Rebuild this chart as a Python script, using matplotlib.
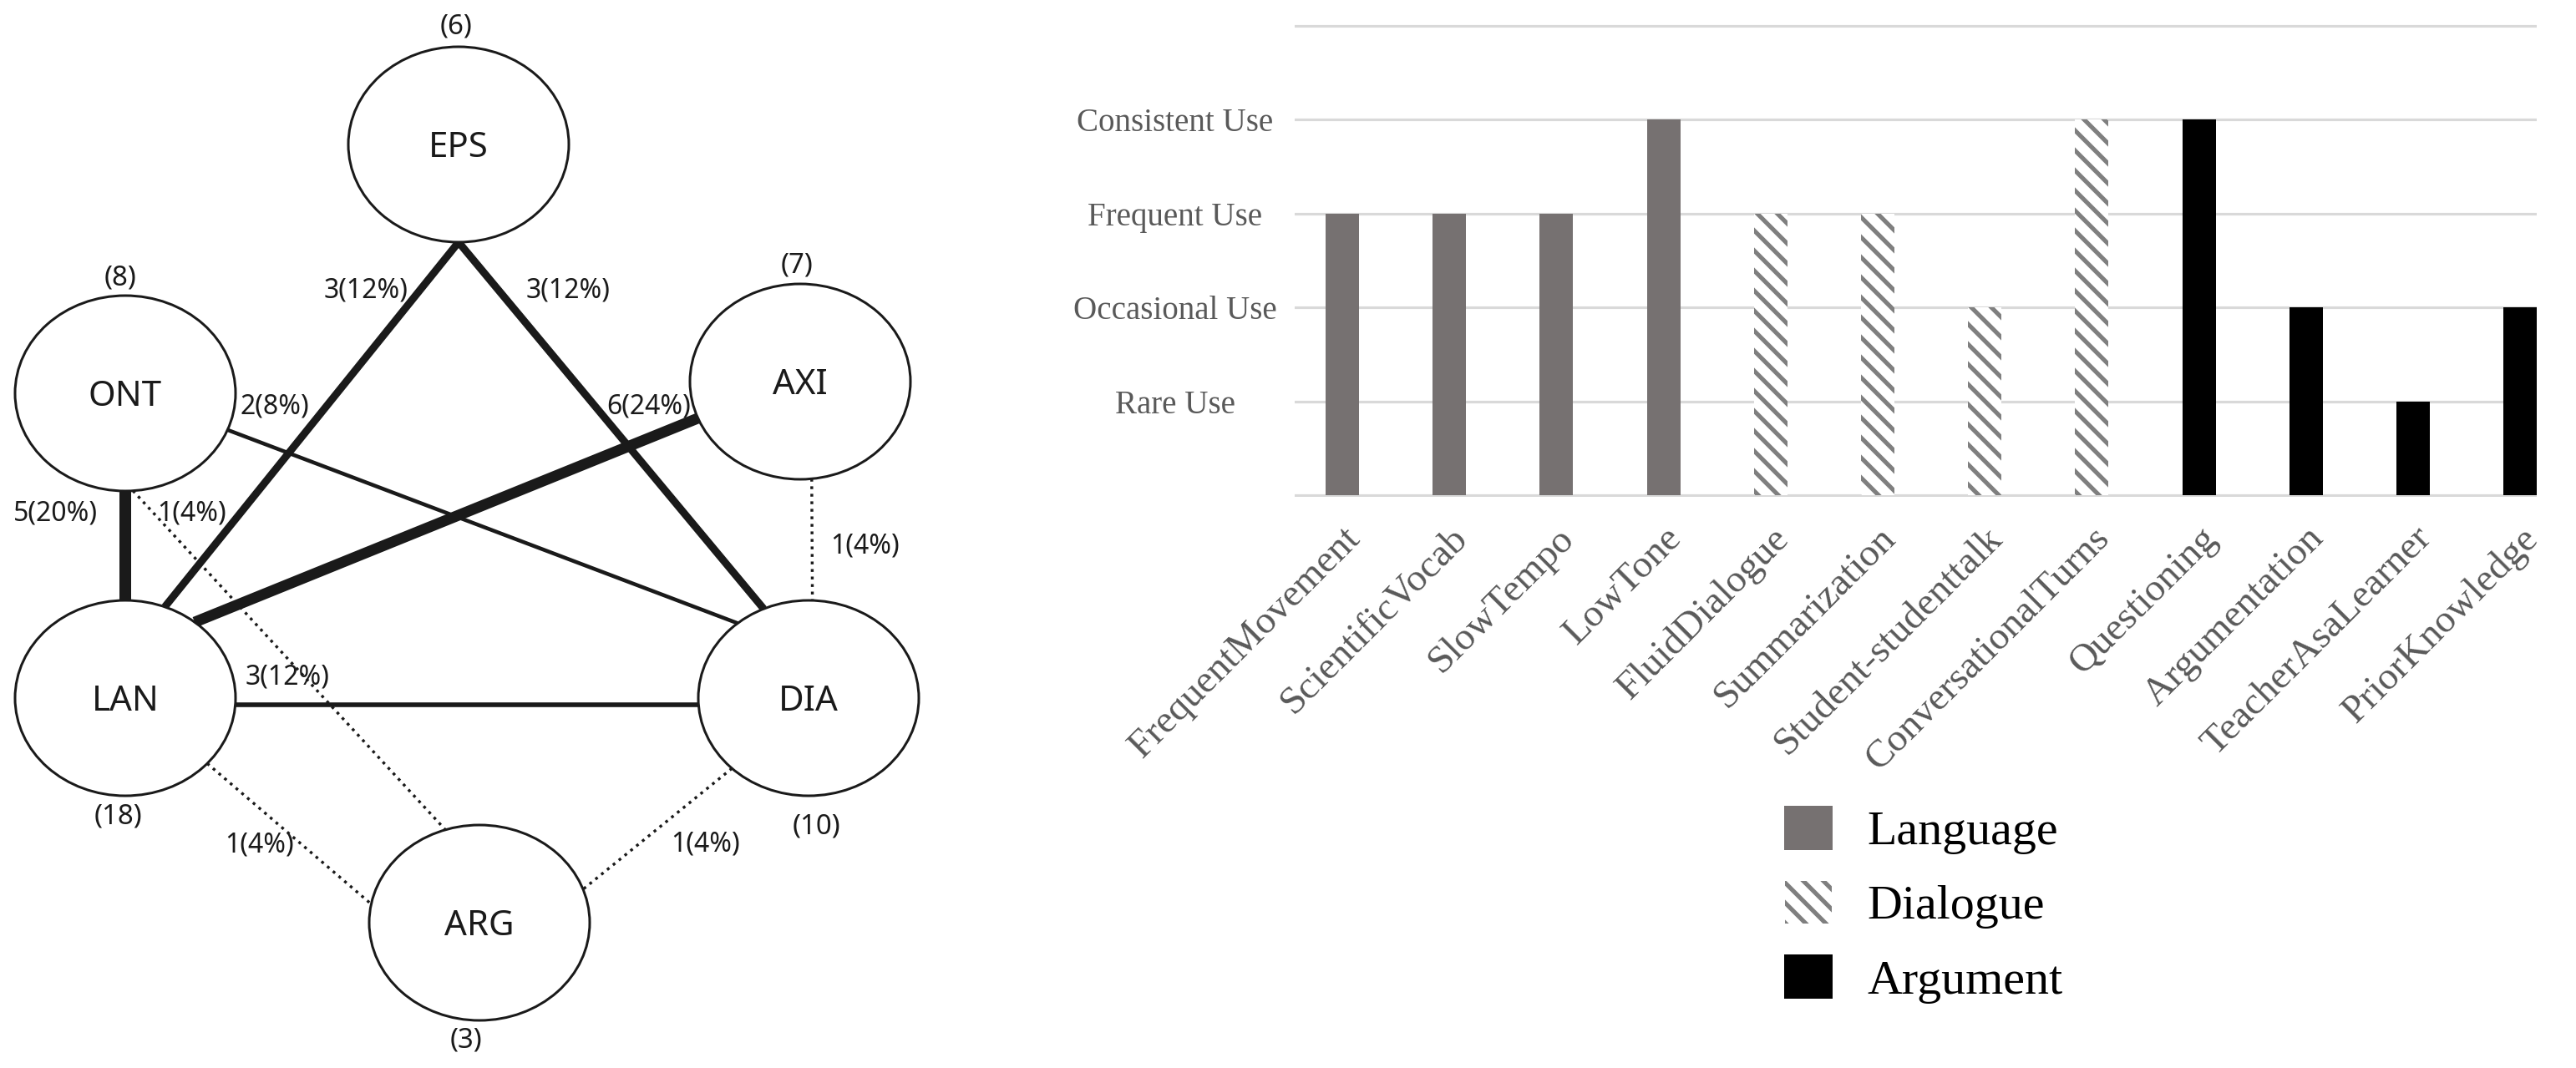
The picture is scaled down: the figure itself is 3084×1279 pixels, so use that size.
import numpy as np
import matplotlib
matplotlib.use("Agg")
import matplotlib.pyplot as plt
from matplotlib.patches import Ellipse, Patch
from matplotlib.transforms import ScaledTranslation

# ---- network data ----
nodes = ["EPS", "ONT", "AXI", "LAN", "DIA", "ARG"]
node_counts = [6, 8, 7, 18, 10, 3]
edges = [("EPS", "LAN"), ("EPS", "DIA"), ("AXI", "LAN"), ("ONT", "DIA"),
         ("ONT", "LAN"), ("ONT", "ARG"), ("AXI", "DIA"), ("LAN", "DIA"),
         ("LAN", "ARG"), ("DIA", "ARG")]
edge_counts = [3, 3, 6, 2, 5, 1, 1, 3, 1, 1]
edge_pcts = [12, 12, 24, 8, 20, 4, 4, 12, 4, 4]

# ---- bar chart data ----
behaviours = ["FrequentMovement", "ScientificVocab", "SlowTempo", "LowTone",
              "FluidDialogue", "Summarization", "Student-studenttalk",
              "ConversationalTurns", "Questioning", "Argumentation",
              "TeacherAsaLearner", "PriorKnowledge"]
use_level = [3, 3, 3, 4, 3, 3, 2, 4, 4, 2, 1, 2]
group = ["Language"] * 4 + ["Dialogue"] * 4 + ["Argument"] * 4
levels = ["", "Rare Use", "Occasional Use", "Frequent Use", "Consistent Use", ""]

# ---- layout (pixels of the 3084x1279 canvas) ----
W, H, DPI = 3084, 1279, 144
node_xy = {"EPS": (549, 173), "ONT": (150, 471), "AXI": (958, 457),
           "LAN": (150, 836), "DIA": (968, 836), "ARG": (574, 1105)}
node_w, node_h = 264, 234
count_xy = {"EPS": (546, 32), "ONT": (144, 333), "AXI": (954, 318),
            "LAN": (142, 978), "DIA": (978, 990), "ARG": (558, 1246)}
anchor_deg = [(90, -69), (90, -114), (158, -51), (22, -130), (90, -90),
              (86, -108), (84, -88), (4, 176), (42, 191), (134, -20)]
edge_lw = [4.5, 4.5, 6.5, 2.3, 7, 1.7, 1.7, 2.8, 1.7, 1.7]
label_xy = [(438, 348), (680, 348), (777, 487), (329, 487), (66, 615),
            (230, 615), (1036, 654), (344, 811), (311, 1012), (845, 1011)]

ink = "#1a1a1a"
sans = ["Noto Sans", "DejaVu Sans"]
serif = ["Liberation Serif", "DejaVu Serif"]
plt.rcParams["hatch.linewidth"] = 2.6

fig = plt.figure(figsize=(W / DPI, H / DPI), dpi=DPI)

# network panel, drawn in pixel coordinates
net = fig.add_axes([0, 0, 1, 1])
net.set_xlim(0, W)
net.set_ylim(H, 0)
net.axis("off")


def on_ellipse(name, deg):
    cx, cy = node_xy[name]
    a = np.radians(deg)
    return cx + node_w / 2 * np.cos(a), cy + node_h / 2 * np.sin(a)


for (a, b), (da, db), c, p, lw, (lx, ly) in zip(edges, anchor_deg, edge_counts,
                                                 edge_pcts, edge_lw, label_xy):
    x0, y0 = on_ellipse(a, da)
    x1, y1 = on_ellipse(b, db)
    net.plot([x0, x1], [y0, y1], color=ink, lw=lw,
             ls=":" if c == 1 else "-", solid_capstyle="butt", zorder=1)
    net.text(lx, ly, "%d(%d%%)" % (c, p), fontsize=16, family=sans,
             color=ink, ha="center", va="center", zorder=4)

for name, n in zip(nodes, node_counts):
    cx, cy = node_xy[name]
    net.add_patch(Ellipse((cx, cy), node_w, node_h, facecolor="white",
                          edgecolor=ink, lw=1.5, zorder=2))
    net.text(cx, cy + 4, name, fontsize=21, family=sans, color=ink,
             ha="center", va="center", zorder=3)
    tx, ty = count_xy[name]
    net.text(tx, ty, "(%d)" % n, fontsize=16.5, family=sans, color=ink,
             ha="center", va="center", zorder=3)

# bar chart panel
px_unit = (593 - 31) / 5.0
y_lo, y_hi = -0.02, 5.02
bot = 593 + (0 - y_lo) * px_unit
top = 31 - (y_hi - 5) * px_unit
ax = fig.add_axes([1550 / W, 1 - bot / H, (3037 - 1550) / W, (bot - top) / H])

styles = {"Language": dict(color="#767171"),
          "Dialogue": dict(facecolor="white", edgecolor="#7f7f7f",
                           hatch="\\\\", linewidth=0),
          "Argument": dict(color="black")}
x = np.arange(len(behaviours))
for g in ["Language", "Dialogue", "Argument"]:
    idx = [i for i, gg in enumerate(group) if gg == g]
    ax.bar(x[idx], [use_level[i] for i in idx], width=0.312, zorder=3,
           **styles[g])

ax.set_xlim(-0.445, 11.155)
ax.set_ylim(y_lo, y_hi)
ax.set_yticks(range(len(levels)))
ax.set_yticklabels(levels, family=serif, fontsize=19.5, color="#595959")
for t in ax.get_yticklabels():
    t.set_ha("center")
ax.set_xticks(x)
ax.set_xticklabels(behaviours, family=serif, fontsize=23.5, color="#595959",
                   rotation=45, ha="right", va="top", rotation_mode="anchor")
shift = ScaledTranslation(-18 / DPI, 0, fig.dpi_scale_trans)
for t in ax.get_xticklabels():
    t.set_transform(t.get_transform() + shift)
ax.tick_params(axis="y", length=0, pad=71.5)
ax.tick_params(axis="x", length=0, pad=14)
ax.yaxis.grid(True, color="#d9d9d9", lw=1.6)
ax.set_axisbelow(True)
for s in ax.spines.values():
    s.set_visible(False)

handles = [Patch(**styles[g]) for g in ["Language", "Dialogue", "Argument"]]
fig.legend(handles, ["Language", "Dialogue", "Argument"],
           loc="upper left", bbox_to_anchor=(2137 / W, 1 - 966 / H),
           frameon=False, prop={"family": serif, "size": 29},
           handlelength=0.97, handleheight=0.97, handletextpad=0.72,
           labelspacing=0.55, borderpad=0, borderaxespad=0)

fig.savefig("out.png", dpi=DPI)
